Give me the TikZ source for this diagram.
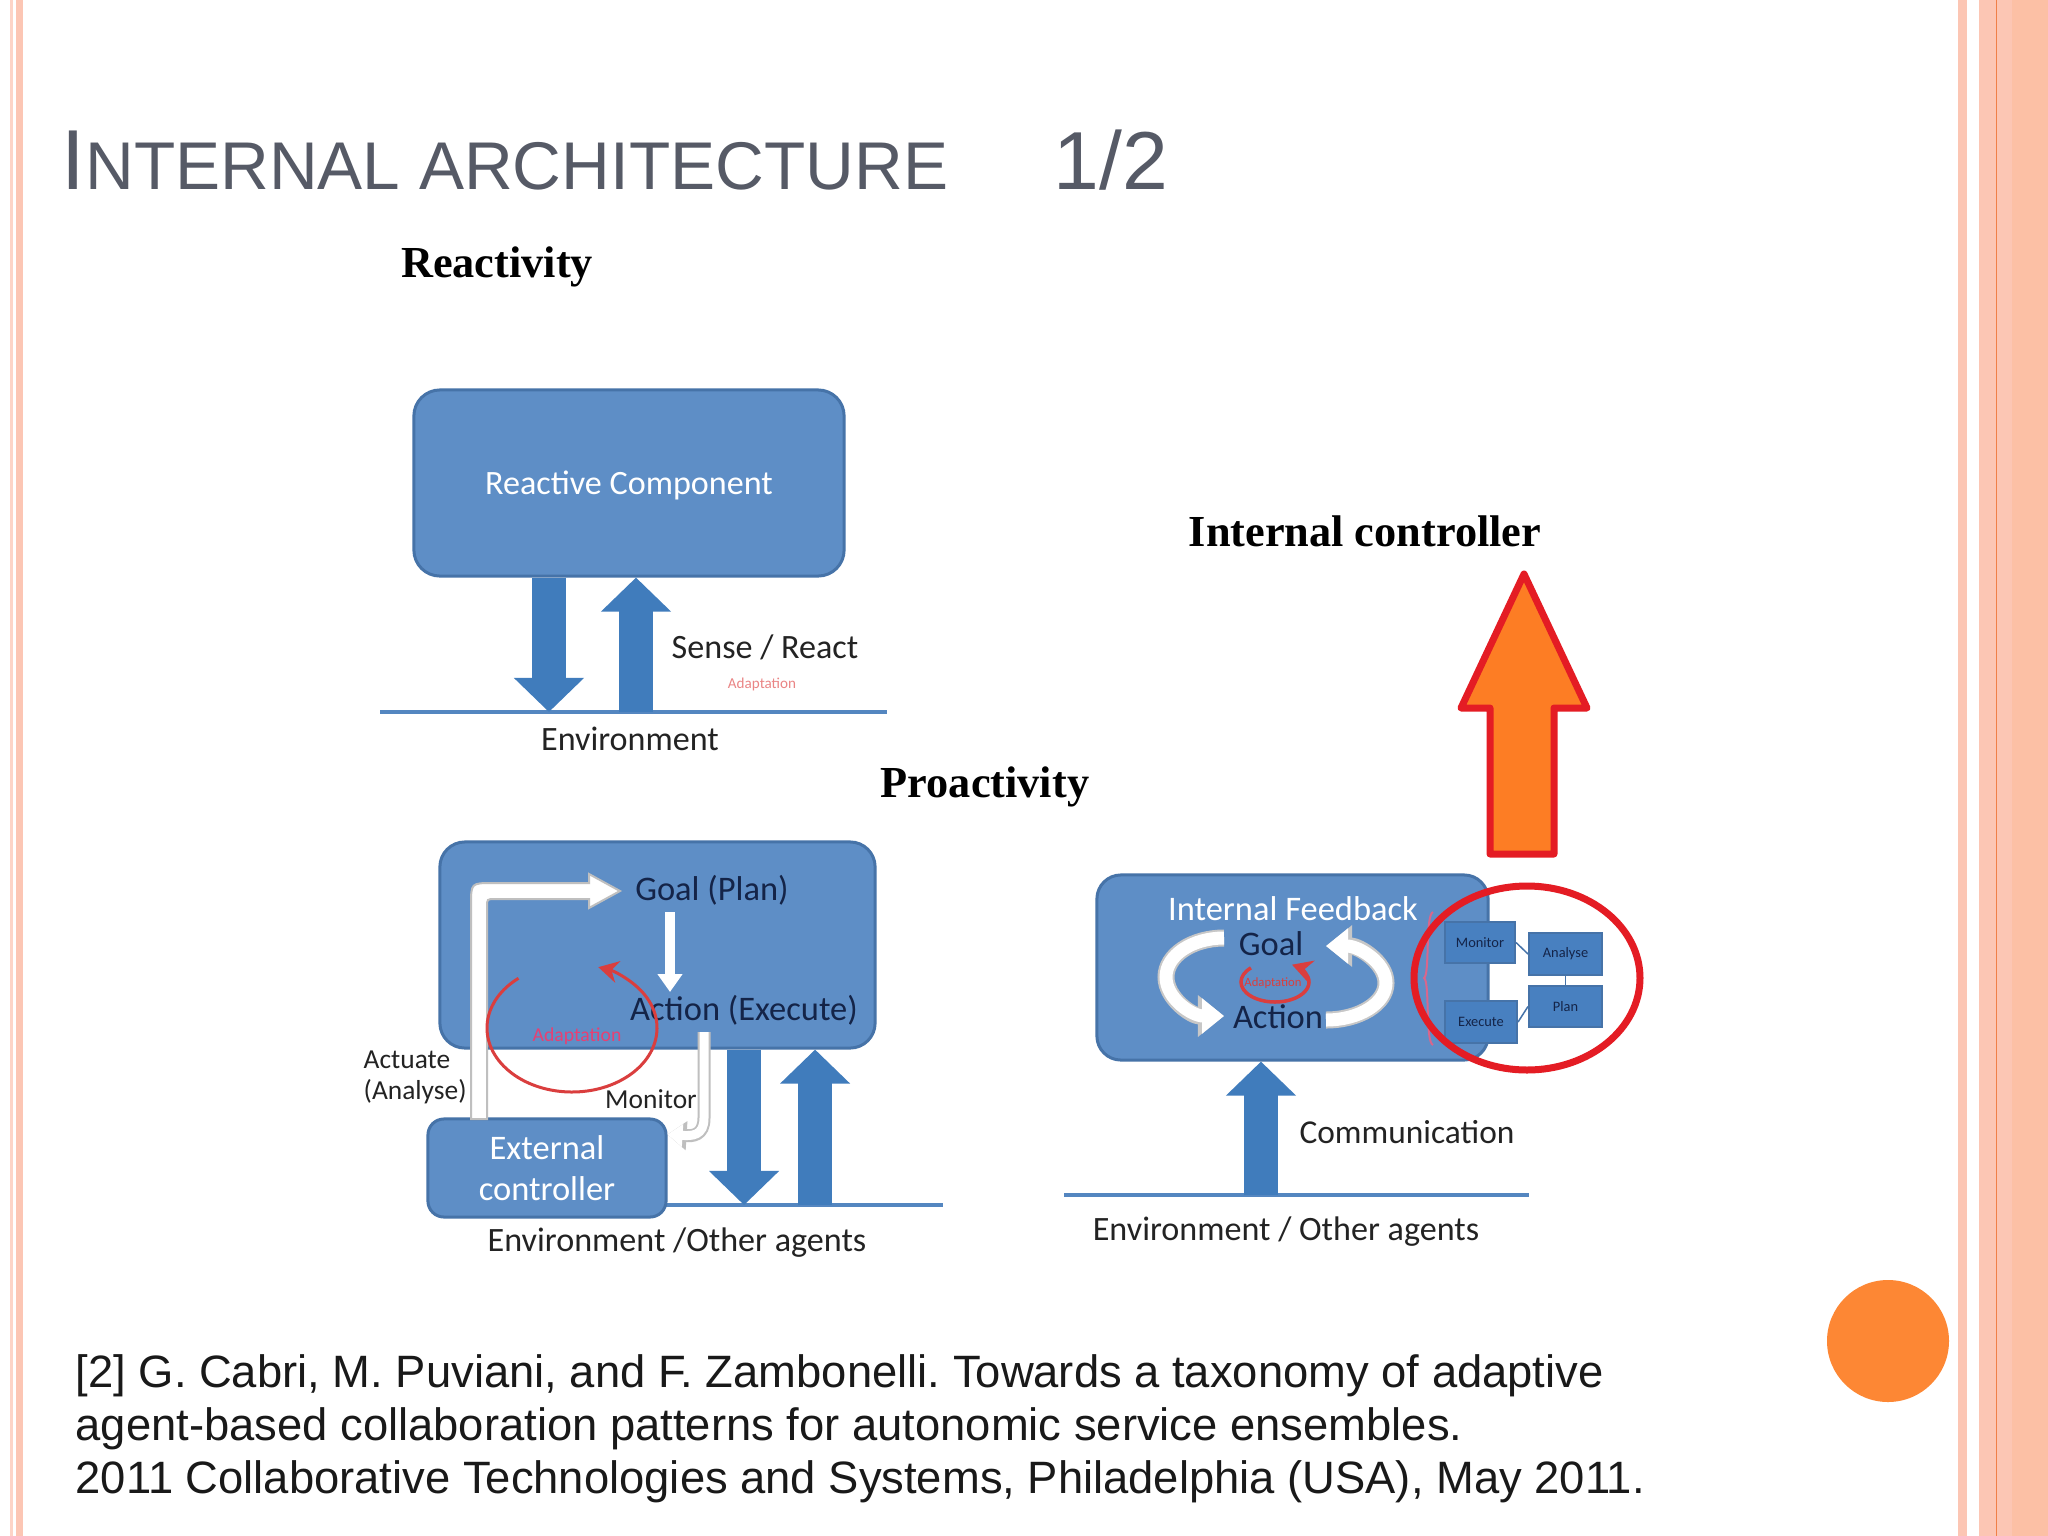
\documentclass[tikz,border=0pt]{standalone}
\usepackage{fontspec}
\setmainfont{Carlito}
\newfontfamily\slidefont{Liberation Sans}
\newfontfamily\headfont{Liberation Serif}
\usetikzlibrary{arrows.meta,positioning,calc}
\definecolor{boxblue}{RGB}{94,142,198}
\definecolor{boxedge}{RGB}{70,115,168}
\definecolor{arrblue}{RGB}{64,124,188}
\definecolor{lineblue}{RGB}{84,134,192}
\definecolor{navytxt}{RGB}{20,36,72}
\definecolor{txtdark}{RGB}{35,35,35}
\definecolor{adapred}{RGB}{225,80,80}
\definecolor{loopred}{RGB}{218,62,62}
\definecolor{ringred}{RGB}{228,28,36}
\definecolor{ctrlorange}{RGB}{253,125,36}
\definecolor{titlegray}{RGB}{86,90,102}
\definecolor{salmon}{RGB}{252,198,180}
\definecolor{salmonline}{RGB}{240,128,72}
\definecolor{dotorange}{RGB}{253,135,52}
\definecolor{smallbox}{RGB}{72,128,192}
\frenchspacing

\begin{document}
\begin{tikzpicture}[
    x=0.01cm, y=-0.01cm,
    box/.style={fill=boxblue, draw=boxedge, line width=0.3mm, rounded corners=2.5mm, text=white, inner sep=0pt},
    blk/.style={draw=arrblue, line width=3.4mm, -{Triangle[width=6.8mm,length=3.4mm]}},
    envline/.style={draw=lineblue, line width=0.4mm},
    lbl/.style={anchor=base, text=txtdark, inner sep=0pt, font=\fontsize{9.7}{11.6}\selectfont},
    navy/.style={anchor=base, text=navytxt, inner sep=0pt, font=\fontsize{9.8}{11.6}\selectfont},
    head/.style={anchor=base, inner sep=0pt, font=\headfont\bfseries\fontsize{12.6}{15}\selectfont},
    mini/.style={fill=smallbox, draw=boxedge, line width=0.2mm, minimum width=7.2mm, minimum height=4.2mm, inner sep=0pt, text=navytxt, font=\fontsize{4.1}{5}\selectfont},
    redloop/.style={draw=loopred, line width=0.3mm, -{Stealth[length=2mm,width=2.2mm]}},
    ribbon/.style={white, line width=1.3mm, -{Triangle[width=3.4mm,length=2.2mm]}},
    ribbonsh/.style={black!22, line width=1.7mm, -{Triangle[width=4mm,length=2.6mm]}},
    reftxt/.style={anchor=base west, inner sep=0pt, text=black!90, font=\slidefont\fontsize{12.9}{15.4}\selectfont},
]
    \useasboundingbox (0,0) rectangle (2048,1536);
    \fill[white] (0,0) rectangle (2048,1536);
    \fill[salmon!75] (10,0) rectangle (13,1536);
    \fill[salmon] (16,0) rectangle (23,1536);
    \fill[salmon] (1958,0) rectangle (1967,1536);
    \fill[salmon] (1979,0) rectangle (2048,1536);
    \fill[salmon!92!orange] (2012,0) rectangle (2048,1536);
    \draw[salmonline, line width=0.15mm] (1996.5,0) -- (1996.5,1536);
    \fill[dotorange] (1888,1341) circle[radius=61];

    \node[anchor=base west, inner sep=0pt, text=titlegray, font=\slidefont] (ttl) at (61,189) {\fontsize{24.2}{29}\selectfont I\fontsize{19.2}{23}\selectfont NTERNAL ARCHITECTURE};
    \node[anchor=base west, inner sep=0pt, text=titlegray, font=\slidefont\fontsize{23.4}{28}\selectfont] (pg) at (1053,189) {1/2};

    \node[head] (reac) at (497,277) {Reactivity};
    \node[box, minimum width=4.3cm, minimum height=1.86cm, rounded corners=2.6mm, text depth=0pt, font=\fontsize{9.7}{11.6}\selectfont] (rc) at (629,483) {Reactive Component};
    \coordinate (ela) at (380,712);
    \coordinate (elb) at (887,712);
    \draw[envline] (ela) -- (elb);
    \draw[blk] ([xshift=-8mm]rc.south) -- ([xshift=-8mm]rc.south |- ela);
    \draw[blk] ([xshift=0.7mm]rc.south |- ela) -- ([xshift=0.7mm]rc.south);
    \node[lbl] (sr) at (765,658) {Sense / React};
    \node[lbl, text=adapred!70, font=\fontsize{4.3}{5}\selectfont] (ad1) at (762,688) {Adaptation};
    \node[lbl] (env1) at (630,750) {Environment};

    \node[head] (proa) at (985,797) {Proactivity};
    \node[box, minimum width=4.35cm, minimum height=2.06cm] (pb) at (657.5,945) {};
    \coordinate (elc) at (666,1205);
    \coordinate (eld) at (943,1205);
    \draw[envline] (elc) -- (eld);
    \draw[blk] ([xshift=8.65mm]pb.south) -- ([xshift=8.65mm]pb.south |- elc);
    \draw[blk] ([xshift=15.75mm]pb.south |- elc) -- ([xshift=15.75mm]pb.south);
    \node[box, minimum width=2.38cm, minimum height=0.98cm, rounded corners=1.6mm, align=center, font=\fontsize{9.8}{11.7}\selectfont] (ec) at (547,1168) {External\\controller};
    \node[navy] (gp) at (712,900) {Goal (Plan)};
    \node[navy] (ae) at (744,1020) {Action (Execute)};
    \draw[draw=black!25, fill=white, line width=0.2mm] (471,1119) -- (471,905) .. controls (471,883) .. (493,883) -- (589,883) -- (589,874) -- (620,891) -- (589,908) -- (589,899) -- (495,899) .. controls (487,899) .. (487,907) -- (487,1119) -- cycle;
    \coordinate (ga1) at (670,912);
    \coordinate (ga2) at (670,992);
    \draw[white, line width=1mm, -{Triangle[width=2.4mm,length=1.8mm]}] (ga1) -- (ga2);
    \draw[redloop] (572,1028) ++(231:85 and 64) arc[start angle=231, end angle=-72, x radius=85, y radius=64];
    \node[lbl, text=adapred!80!magenta, font=\fontsize{5.6}{6}\selectfont] (ad2) at (577,1041) {Adaptation};
    \node[lbl, anchor=base west, font=\fontsize{7.8}{9.7}\selectfont] (act1) at (363,1068) {Actuate};
    \node[lbl, anchor=base west, font=\fontsize{7.8}{9.7}\selectfont] (act2) at (363,1099) {(Analyse)};
    \node[lbl, font=\fontsize{7.8}{9.7}\selectfont] (mon) at (651,1108) {Monitor};
    \coordinate (ma) at (704,1032);
    \draw[black!25, line width=1.3mm, -{Triangle[width=2.8mm,length=1.9mm]}] (ma) -- (704,1118) .. controls (704,1136) and (692,1136) .. ([yshift=-1.7mm]ec.north east);
    \draw[white, line width=0.9mm, -{Triangle[width=2.2mm,length=1.5mm]}] (ma) -- (704,1118) .. controls (704,1136) and (692,1136) .. ([yshift=-1.7mm]ec.north east);
    \node[lbl] (env2) at (677,1251) {Environment /Other agents};

    \node[head] (intc) at (1365,546) {Internal controller};
    \draw[draw=ringred, fill=ctrlorange, line width=0.7mm, line join=round] (1524,574) -- (1587,708) -- (1554,708) -- (1554,854) -- (1490,854) -- (1490,708) -- (1461,708) -- cycle;
    \node[box, minimum width=3.91cm, minimum height=1.85cm, rounded corners=2.4mm] (ifb) at (1292.5,967.5) {};
    \coordinate (ele) at (1064,1195);
    \coordinate (elf) at (1529,1195);
    \draw[envline] (ele) -- (elf);
    \draw[blk] ([xshift=-3.15mm]ifb.south |- ele) -- ([xshift=-3.15mm]ifb.south);
    \node[lbl, text=white, font=\fontsize{9.8}{11.6}\selectfont] (ift) at (1293,920) {Internal Feedback};
    \node[navy] (g2) at (1271,955) {Goal};
    \node[navy] (a2) at (1278,1028) {Action};
    \draw[ribbonsh] (1224,938) arc[start angle=270, end angle=90, x radius=58, y radius=39];
    \draw[ribbon] (1224,938) arc[start angle=270, end angle=90, x radius=58, y radius=39];
    \draw[ribbonsh] (1326,1020) arc[start angle=90, end angle=-90, x radius=60, y radius=37];
    \draw[ribbon] (1326,1020) arc[start angle=90, end angle=-90, x radius=60, y radius=37];
    \draw[redloop, line width=0.35mm] (1275,982) ++(225:34 and 20) arc[start angle=225, end angle=-60, x radius=34, y radius=20];
    \node[lbl, text=loopred, font=\fontsize{3.6}{4}\selectfont] (ad3) at (1273,986) {Adaptation};
    \draw[purple!60, line width=0.2mm] (1433,912) .. controls (1425,915) and (1430,975) .. (1424,978) .. controls (1430,981) and (1425,1042) .. (1433,1045);
    \node[mini, minimum width=7mm, minimum height=4.1mm] (mo) at (1480,942.5) {Monitor};
    \node[mini, minimum width=7.3mm] (an) at (1565.5,954) {Analyse};
    \node[mini, minimum width=7.3mm, minimum height=4.1mm] (pl) at (1565.5,1006.5) {Plan};
    \node[mini] (ex) at (1481,1022) {Execute};
    \draw[boxedge, line width=0.15mm] (mo.east) -- (an.west);
    \draw[boxedge, line width=0.15mm] (an.south) -- (pl.north);
    \draw[boxedge, line width=0.15mm] (pl.west) -- (ex.east);
    \draw[ringred, line width=0.7mm] (1527,978) ellipse[x radius=113, y radius=92];
    \node[lbl, font=\fontsize{9.5}{11}\selectfont] (com) at (1407,1143) {Communication};
    \node[lbl] (env3) at (1286,1240) {Environment / Other agents};

    \node[reftxt] (ref1) at (75,1387) {[2] G. Cabri, M. Puviani, and F. Zambonelli. Towards a taxonomy of adaptive};
    \node[reftxt] (ref2) at (75,1440) {agent-based collaboration patterns for autonomic service ensembles.};
    \node[reftxt] (ref3) at (75,1493) {2011 Collaborative Technologies and Systems, Philadelphia (USA), May 2011.};
\end{tikzpicture}
\end{document}
